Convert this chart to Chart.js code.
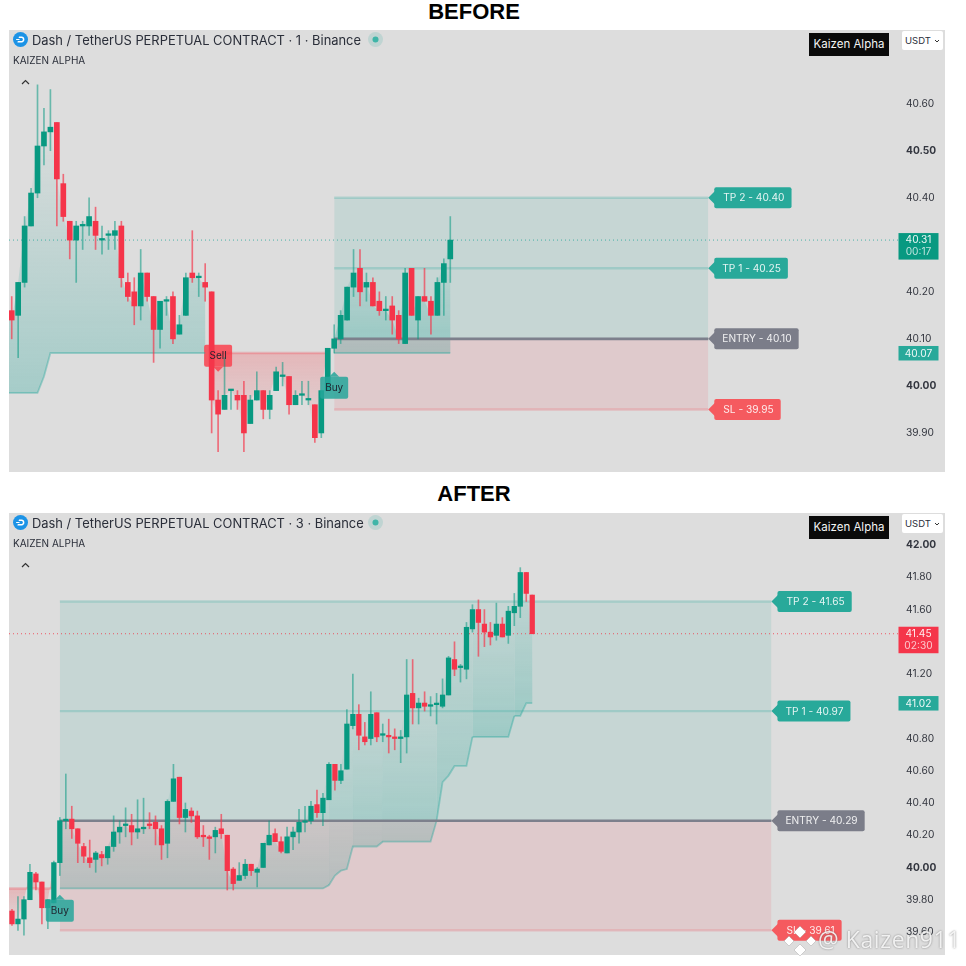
<!DOCTYPE html>
<html>
<head>
<meta charset="utf-8">
<script src="https://cdn.jsdelivr.net/npm/chart.js@4/dist/chart.umd.min.js"></script>
<style>
html,body{margin:0;padding:0;background:#fff;width:966px;height:966px;overflow:hidden}
.head{position:absolute;left:0;width:948px;text-align:center;font:bold 22px "Liberation Sans",Arial,sans-serif;color:#000;line-height:24px}
.panel{position:absolute;left:9px;width:936px;height:442px;background:#dddddd}
canvas{position:absolute;left:0;top:0;filter:blur(.3px)}
.t{position:absolute;white-space:nowrap;font-family:Inter,"Noto Sans",sans-serif;color:#2a2e39}
.logo,.dot,.chev{position:absolute}
.kz{position:absolute;left:800px;top:3px;width:80px;height:23px;background:#0a0a0a;color:#f4f4f4;font:11.5px/23px Inter,sans-serif;text-align:center}
.usdt{position:absolute;left:893px;top:1px;width:41px;height:19px;background:#fff;border-radius:2px;color:#2a2e39;font:9.5px/19px Inter,sans-serif;padding-left:3px;box-sizing:border-box}
.wm{position:absolute;left:818px;top:925px;font:23px/28px "Open Sans",sans-serif;color:rgba(255,255,255,.85);text-shadow:0 0 2px rgba(90,90,90,.75);white-space:nowrap;letter-spacing:.6px}
</style>
</head>
<body>
<div class="head" style="top:0">BEFORE</div>
<div class="panel" id="p1"></div>
<div class="head" style="top:482px">AFTER</div>
<div class="panel" id="p2"></div>
<svg style="position:absolute;left:782px;top:922px" width="36" height="36" viewBox="0 0 36 36"><g fill="#fff" stroke="rgba(110,110,110,.45)" stroke-width=".6"><path d="M18 4l6 6-6 6-6-6z"/><path d="M7 14l5 5-5 5-5-5z"/><path d="M29 14l5 5-5 5-5-5z"/><path d="M18 22l6 6-6 6-6-6z"/></g></svg>
<div class="wm">@ Kaizen911</div>
<script>
// ---------- BEFORE (1 minute) ----------
const beforeOpen=[40.16,40.15,40.22,40.34,40.41,40.51,40.54,40.56,40.43,40.35,40.31,40.34,40.34,40.35,40.31,40.32,40.32,40.34,40.22,40.20,40.17,40.24,40.19,40.12,40.18,40.19,40.11,40.15,40.24,40.23,40.22,40.20,39.97,39.95,39.99,39.98,39.98,39.92,39.97,39.99,39.95,39.99,40.02,40.02,39.96,39.98,39.97,39.96,39.90,39.99,40.08,40.10,40.14,40.21,40.25,40.21,40.22,40.18,40.16,40.17,40.15,40.09,40.25,40.14,40.19,40.18,40.15,40.22,40.27];
const beforeHigh=[40.19,40.22,40.36,40.42,40.64,40.59,40.63,40.56,40.45,40.35,40.35,40.35,40.40,40.38,40.34,40.33,40.35,40.35,40.24,40.23,40.29,40.24,40.19,40.18,40.19,40.20,40.15,40.24,40.33,40.24,40.26,40.20,39.99,40.06,39.99,39.99,40.01,39.98,40.03,39.99,39.99,40.04,40.05,40.02,39.99,40.01,40.01,39.96,39.99,40.08,40.13,40.16,40.21,40.29,40.29,40.24,40.23,40.20,40.19,40.19,40.16,40.25,40.25,40.19,40.25,40.19,40.23,40.27,40.36];
const beforeLow=[40.10,40.06,40.21,40.34,40.40,40.47,40.50,40.34,40.35,40.27,40.22,40.29,40.32,40.29,40.28,40.29,40.29,40.21,40.18,40.13,40.14,40.18,40.05,40.08,40.15,40.09,40.11,40.15,40.22,40.19,40.18,39.90,39.86,39.95,39.95,39.95,39.86,39.92,39.97,39.93,39.93,39.99,40.00,39.94,39.96,39.96,39.96,39.88,39.89,39.99,40.07,40.09,40.14,40.19,40.17,40.18,40.17,40.15,40.14,40.11,40.09,40.09,40.15,40.10,40.18,40.11,40.15,40.15,40.22];
const beforeClose=[40.14,40.22,40.34,40.41,40.51,40.54,40.55,40.44,40.36,40.31,40.34,40.34,40.36,40.32,40.31,40.32,40.33,40.23,40.19,40.17,40.24,40.19,40.12,40.18,40.18,40.10,40.13,40.23,40.23,40.23,40.21,39.97,39.94,39.98,39.99,39.97,39.90,39.97,39.99,39.95,39.98,40.03,40.02,39.96,39.98,39.98,39.97,39.89,39.99,40.08,40.10,40.15,40.21,40.24,40.20,40.22,40.17,40.16,40.16,40.14,40.10,40.24,40.15,40.19,40.18,40.15,40.22,40.26,40.31];
const beforeTrend=[39.985,39.985,39.985,39.985,39.985,40.02,40.07,40.07,40.07,40.07,40.07,40.07,40.07,40.07,40.07,40.07,40.07,40.07,40.07,40.07,40.07,40.07,40.07,40.07,40.07,40.07,40.07,40.07,40.07,40.07,40.07,40.07,40.07,40.07,40.07,40.07,40.07,40.07,40.07,40.07,40.07,40.07,40.07,40.07,40.07,40.07,40.07,40.07,40.07,40.07,40.07,40.07,40.07,40.07,40.07,40.07,40.07,40.07,40.07,40.07,40.07,40.07,40.07,40.07,40.07,40.07,40.07,40.07,40.07];
const beforeTicks=[39.90,40.00,40.10,40.20,40.40,40.50,40.60];
const beforeBold=[40.00,40.50];
const beforeLevels={tp2:40.40,tp1:40.25,entry:40.10,sl:39.95};

// ---------- AFTER (3 minutes) ----------
const afterOpen=[39.73,39.65,39.68,39.80,39.96,39.91,39.75,39.78,40.03,40.29,40.30,40.24,40.13,40.06,40.05,40.08,40.06,40.13,40.22,40.26,40.26,40.22,40.24,40.27,40.28,40.24,40.15,40.41,40.56,40.31,40.35,40.32,40.20,40.19,40.19,40.24,40.20,39.99,39.92,39.95,40.02,39.97,40.00,40.14,40.21,40.16,40.09,40.19,40.22,40.28,40.29,40.39,40.34,40.42,40.64,40.54,40.61,40.88,40.95,40.81,40.80,40.96,40.82,40.82,40.81,40.80,40.81,41.08,40.99,41.02,41.00,41.01,41.00,41.07,41.29,41.24,41.23,41.48,41.60,41.51,41.46,41.44,41.51,41.44,41.58,41.62,41.83,41.69];
const afterHigh=[39.74,39.82,39.82,40.02,39.97,39.91,39.80,40.04,40.31,40.58,40.38,40.24,40.15,40.17,40.10,40.10,40.13,40.32,40.29,40.37,40.33,40.42,40.43,40.34,40.32,40.26,40.42,40.64,40.56,40.40,40.37,40.35,40.26,40.20,40.25,40.33,40.20,40.00,40.03,40.05,40.02,40.00,40.15,40.29,40.24,40.19,40.25,40.25,40.36,40.38,40.41,40.48,40.46,40.65,40.64,40.64,40.98,41.20,41.01,40.90,41.09,40.96,40.89,40.92,40.86,40.85,41.29,41.29,41.05,41.09,41.06,41.08,41.17,41.31,41.40,41.26,41.52,41.63,41.66,41.60,41.52,41.64,41.55,41.62,41.70,41.86,41.83,41.69];
const afterLow=[39.64,39.61,39.58,39.80,39.86,39.65,39.62,39.78,39.95,40.24,40.18,40.03,40.03,40.00,39.97,40.01,40.02,40.10,40.15,40.19,40.14,40.18,40.21,40.24,40.14,40.05,40.06,40.41,40.27,40.22,40.28,40.18,40.13,40.05,40.09,40.18,39.86,39.86,39.92,39.93,39.95,39.88,40.00,40.14,40.16,40.09,40.09,40.11,40.15,40.22,40.27,40.31,40.26,40.42,40.48,40.52,40.61,40.86,40.73,40.76,40.76,40.78,40.78,40.71,40.73,40.65,40.71,40.89,40.89,40.97,40.94,40.89,40.99,41.07,41.19,41.15,41.17,41.46,41.31,41.37,41.38,41.41,41.43,41.39,41.50,41.55,41.65,41.45];
const afterClose=[39.65,39.68,39.80,39.97,39.91,39.75,39.80,40.03,40.29,40.29,40.24,40.15,40.07,40.03,40.09,40.06,40.13,40.22,40.25,40.26,40.22,40.24,40.25,40.26,40.24,40.14,40.41,40.55,40.31,40.36,40.32,40.19,40.19,40.18,40.23,40.21,39.98,39.90,39.95,40.02,39.98,39.99,40.15,40.20,40.16,40.10,40.19,40.22,40.28,40.28,40.38,40.34,40.43,40.64,40.54,40.60,40.89,40.95,40.82,40.78,40.95,40.81,40.82,40.81,40.80,40.81,41.07,40.99,41.02,41.00,41.00,41.01,41.07,41.30,41.23,41.24,41.49,41.60,41.52,41.46,41.43,41.51,41.43,41.59,41.62,41.83,41.70,41.45];
const afterTrend=[39.87,39.87,39.87,39.87,39.87,39.87,39.87,39.87,39.87,39.87,39.87,39.87,39.87,39.87,39.87,39.87,39.87,39.87,39.87,39.87,39.87,39.87,39.87,39.87,39.87,39.87,39.87,39.87,39.87,39.87,39.87,39.87,39.87,39.87,39.87,39.87,39.87,39.87,39.87,39.87,39.87,39.87,39.87,39.87,39.87,39.87,39.87,39.87,39.87,39.87,39.87,39.87,39.87,39.89,39.95,39.98,39.99,40.13,40.13,40.13,40.13,40.13,40.16,40.16,40.16,40.16,40.16,40.16,40.16,40.16,40.16,40.29,40.53,40.57,40.63,40.63,40.63,40.81,40.81,40.81,40.81,40.81,40.81,40.81,40.94,40.94,41.02,41.02];
const afterTicks=[39.60,39.80,40.00,40.20,40.40,40.60,40.80,41.20,41.60,41.80,42.00];
const afterBold=[40.00,42.00];
const afterLevels={tp2:41.65,tp1:40.97,entry:40.29,sl:39.61};

const GREEN='#089981',RED='#f5354a',TEAL='#26a69a';
const FONT='Inter,"Noto Sans",sans-serif';

function grad(chart,top,bottom,rgb,aTop,aBottom){
  const a=chart.chartArea; if(!a) return 'rgba('+rgb+','+aBottom+')';
  const y=chart.scales.y, g=chart.ctx.createLinearGradient(0,y.getPixelForValue(top),0,y.getPixelForValue(bottom));
  g.addColorStop(0,'rgba('+rgb+','+aTop+')'); g.addColorStop(1,'rgba('+rgb+','+aBottom+')');
  return g;
}

function tag(ctx,tipX,y,color,text,pad){
  ctx.save();
  ctx.font='10.2px '+FONT;
  const w=ctx.measureText(text).width+pad+7, h=21, bx=tipX+6;
  ctx.fillStyle=color;
  ctx.beginPath(); ctx.roundRect(bx,y-h/2,w,h,2); ctx.fill();
  ctx.beginPath(); ctx.moveTo(tipX,y); ctx.lineTo(bx+1,y-7); ctx.lineTo(bx+1,y+7); ctx.closePath(); ctx.fill();
  ctx.fillStyle='rgba(255,255,255,.88)'; ctx.textAlign='left'; ctx.textBaseline='middle';
  ctx.fillText(text,bx+pad,y+.5);
  ctx.restore();
}
function marker(ctx,cx,tipY,dir,color,text,part){
  const w=28,h=22;
  const top=dir<0?tipY-5-h:tipY+5;
  if(part==='shape'){
    ctx.save(); ctx.fillStyle=color;
    ctx.beginPath(); ctx.roundRect(cx-w/2,top,w,h,2); ctx.fill();
    ctx.beginPath();
    if(dir<0){ctx.moveTo(cx-5,top+h);ctx.lineTo(cx,tipY);ctx.lineTo(cx+5,top+h);}
    else{ctx.moveTo(cx-5,top);ctx.lineTo(cx,tipY);ctx.lineTo(cx+5,top);}
    ctx.closePath(); ctx.fill(); ctx.restore();
  }else{
    ctx.save(); ctx.fillStyle='#1e222d'; ctx.font='10px '+FONT; ctx.textAlign='center'; ctx.textBaseline='middle';
    ctx.fillText(text,cx,top+h/2+.5); ctx.restore();
  }
}
function priceBox(ctx,x,y,h,color,lines){
  ctx.save(); ctx.fillStyle=color; ctx.fillRect(x,y,40,h);
  ctx.font='10.2px '+FONT; ctx.textAlign='center'; ctx.textBaseline='middle';
  lines.forEach((l,i)=>{ctx.fillStyle=i?'rgba(255,255,255,.72)':'rgba(255,255,255,.92)';ctx.fillText(l,x+20,y+(lines.length>1?7+i*12:h/2+.5));});
  ctx.restore();
}

function build(id,cfg){
  const O=cfg.open,H=cfg.high,L=cfg.low,C=cfg.close,T=cfg.trend;
  const idx=O.map((_,i)=>i);
  const col=idx.map(i=>C[i]<O[i]?RED:GREEN);
  const wickCol=idx.map(i=>C[i]<O[i]?'rgba(245,53,74,.68)':'rgba(8,153,129,.55)');
  const ds=[];
  const seg=(a,b,y)=>[{x:a,y:y},{x:b,y:y}];
  ds.push({type:'bar',order:1,data:idx.map(i=>({x:i,y:[O[i],C[i]]})),backgroundColor:col,barThickness:cfg.body,minBarLength:1.6,grouped:false});
  ds.push({type:'bar',order:2,data:idx.map(i=>({x:i,y:[L[i],H[i]]})),backgroundColor:wickCol,barThickness:1,grouped:false});
  const line=(o)=>Object.assign({type:'line',order:5,pointRadius:0,tension:0,borderWidth:0,borderColor:'transparent',fill:false},o);
  const lv=cfg.levels,a=cfg.boxStart,b=cfg.boxEnd;
  ds.push(line({data:seg(a,b,lv.tp2),borderWidth:2.4,borderColor:'rgba(38,166,154,.24)',backgroundColor:'rgba(38,166,154,.125)',fill:'+1'}));
  ds.push(line({data:seg(a,b,lv.entry),borderWidth:2.6,borderColor:'#7d808c',order:4}));
  ds.push(line({data:seg(a,b,lv.entry),backgroundColor:'rgba(242,54,69,.11)',fill:'+1'}));
  ds.push(line({data:seg(a,b,lv.sl),borderWidth:2.4,borderColor:'rgba(242,54,69,.2)'}));
  ds.push(line({data:seg(a,b,lv.tp1),borderWidth:2.4,borderColor:'rgba(38,166,154,.24)'}));
  cfg.regions.forEach(([s,e,up])=>{
    const ii=idx.filter(i=>i>=s&&i<=e);
    const cp=ii.map(i=>({x:i,y:C[i]})), tp=ii.map(i=>({x:i,y:T[i]}));
    if(s===0){cp.unshift({x:cfg.xMin,y:C[0]});tp.unshift({x:cfg.xMin,y:T[0]});}
    const rgb=up?'38,166,154':'250,70,80';
    const cl=ii.map(i=>C[i]),tl=ii.map(i=>T[i]);
    const top=up?Math.max(...cl):Math.max(...tl), bot=up?Math.min(...tl):Math.min(...cl);
    const fp=cp.slice(), bp=tp.map(p=>p);
    fp.push({x:e+0.05,y:C[e]}); bp.push({x:e+0.05,y:T[e]});
    ds.push(line({data:fp,order:6,fill:'+1',backgroundColor:(c)=>up?grad(c.chart,top,bot,rgb,.02,cfg.fillAlpha):grad(c.chart,top,bot,rgb,.25,.03)}));
    ds.push(line({data:bp,order:6,borderWidth:up?1.8:2.6,borderColor:up?'rgba(38,166,154,.38)':'rgba(242,54,69,.26)'}));
  });
  ds.push(line({data:seg(cfg.xMin,cfg.xMax,C[C.length-1]),order:3,borderWidth:1,borderDash:[1,3],borderColor:cfg.lastColor}));

  const overlay={id:'overlay',
    beforeDatasetsDraw(chart){
      const x=chart.scales.x,y=chart.scales.y,ctx=chart.ctx;
      cfg.marks.filter(m=>m.under).forEach(m=>marker(ctx,x.getPixelForValue(m.i),y.getPixelForValue(m.price),m.dir,m.color,m.text,'shape'));
    },
    afterDatasetsDraw(chart){
      const x=chart.scales.x,y=chart.scales.y,ctx=chart.ctx;
      cfg.marks.forEach(m=>{
        if(!m.under) marker(ctx,x.getPixelForValue(m.i),y.getPixelForValue(m.price),m.dir,m.color,m.text,'shape');
        marker(ctx,x.getPixelForValue(m.i),y.getPixelForValue(m.price),m.dir,m.color,m.text,'text');
      });
      const tx=x.getPixelForValue(b);
      tag(ctx,tx,y.getPixelForValue(lv.tp2),'#28a99a','TP 2 - '+lv.tp2.toFixed(2),9);
      tag(ctx,tx,y.getPixelForValue(lv.tp1),'#28a99a','TP 1 - '+lv.tp1.toFixed(2),8);
      tag(ctx,tx,y.getPixelForValue(lv.entry),'#7b7d89','ENTRY - '+lv.entry.toFixed(2),8);
      tag(ctx,tx,y.getPixelForValue(lv.sl),'#f55a5f','SL - '+lv.sl.toFixed(2),9);
      const ax=chart.chartArea.right-0.5;
      const last=C[C.length-1];
      priceBox(ctx,ax,y.getPixelForValue(last)-7,26.5,cfg.lastBox,[last.toFixed(2),cfg.countdown]);
      const tr=T[T.length-1];
      priceBox(ctx,ax,y.getPixelForValue(tr)-7,14.5,'#28a99a',[tr.toFixed(2)]);
    }
  };

  const cv=document.createElement('canvas');cv.width=936;cv.height=442;
  document.getElementById(id).appendChild(cv);
  new Chart(cv.getContext('2d'),{
    type:'bar',
    data:{datasets:ds},
    plugins:[overlay],
    options:{
      responsive:false,animation:false,events:[],
      devicePixelRatio:1,
      layout:{padding:0},
      plugins:{legend:{display:false},tooltip:{enabled:false},title:{display:false},filler:{drawTime:'beforeDatasetsDraw'}},
      scales:{
        x:{type:'linear',display:false,offset:false,min:cfg.xMin,max:cfg.xMax,grid:{display:false}},
        y:{position:'right',min:cfg.yMin,max:cfg.yMax,
           grid:{display:false,drawTicks:false},border:{display:false},
           afterFit(s){s.width=46;s.paddingTop=0;s.paddingBottom=0;},
           afterBuildTicks(s){s.ticks=cfg.ticks.map(v=>({value:v}));},
           ticks:{autoSkip:false,crossAlign:'near',padding:7,color:'#33363f',
             callback:(v)=>Number(v).toFixed(2),
             font:(c)=>({family:FONT,size:10.2,weight:(c.tick&&cfg.bold.includes(c.tick.value))?'bold':'normal'})}
        }
      }
    }
  });

  const p=document.getElementById(id);
  p.insertAdjacentHTML('beforeend',`
   <svg class="logo" style="left:4px;top:2px" width="15" height="15" viewBox="0 0 15 15"><circle cx="7.5" cy="7.5" r="7.5" fill="#1c93e6"/><path d="M6 4.6h2.6c1.7 0 2.8 1.2 2.8 2.9s-1.1 2.9-2.8 2.9H4.4l.4-1.4h3.6c.9 0 1.5-.6 1.5-1.5S9.300 6 8.400 6H5.600z M3.300 6.900h3.400l-.3 1.100H3z" fill="#fff"/></svg>
   <div class="t" style="left:23px;top:2px;font-size:12.9px;line-height:18px">${cfg.title}</div>
   <svg class="dot" style="left:359px;top:2px" width="15" height="15"><circle cx="7.500" cy="7.500" r="7.500" fill="rgba(38,166,154,.16)"/><circle cx="7.500" cy="7.500" r="3" fill="#3fb5a8"/></svg>
   <div class="t" style="left:4px;top:23px;font-size:10px;line-height:14px">KAIZEN ALPHA</div>
   <svg class="chev" style="left:12px;top:49px" width="9" height="6"><polyline points="1,5 4.500,1.500 8,5" fill="none" stroke="#333" stroke-width="1.200"/></svg>
   <div class="kz">Kaizen Alpha</div>
   <div class="usdt">USDT <svg width="6" height="4" style="vertical-align:1px"><polyline points="1,1 3,3 5,1" fill="none" stroke="#333" stroke-width="1"/></svg></div>`);
}

document.getElementById('p1').style.top='30px';
document.getElementById('p2').style.top='513px';

build('p1',{open:beforeOpen,high:beforeHigh,low:beforeLow,close:beforeClose,trend:beforeTrend,
  ticks:beforeTicks,bold:beforeBold,levels:beforeLevels,fillAlpha:.3,
  xMin:-0.42,xMax:137.57,yMin:39.817,yMax:40.7566,body:5,boxStart:50,boxEnd:108,
  regions:[[0,30,true],[31,49,false],[50,68,true]],
  marks:[{i:32,price:40.03,dir:-1,color:'rgba(247,76,88,.92)',text:'Sell',under:true},
         {i:50,price:40.03,dir:1,color:'rgba(38,166,154,.85)',text:'Buy'}],
  lastColor:'rgba(38,166,154,.8)',lastBox:'#089981',countdown:'00:17',
  title:'Dash / TetherUS PERPETUAL CONTRACT · 1 · Binance'});

build('p2',{open:afterOpen,high:afterHigh,low:afterLow,close:afterClose,trend:afterTrend,
  ticks:afterTicks,bold:afterBold,levels:afterLevels,fillAlpha:.25,
  xMin:-0.5,xMax:148.33,yMin:39.457,yMax:42.199,body:4.6,boxStart:8,boxEnd:127,
  regions:[[0,7,false],[8,53,true],[53,57,true],[57,62,true],[62,71,true],[71,77,true],[77,84,true],[84,87,true]],
  marks:[{i:8,price:39.83,dir:1,color:'rgba(38,166,154,.85)',text:'Buy'}],
  lastColor:'rgba(242,54,69,.8)',lastBox:'#f5354a',countdown:'02:30',
  title:'Dash / TetherUS PERPETUAL CONTRACT · 3 · Binance'});
</script>
</body>
</html>
